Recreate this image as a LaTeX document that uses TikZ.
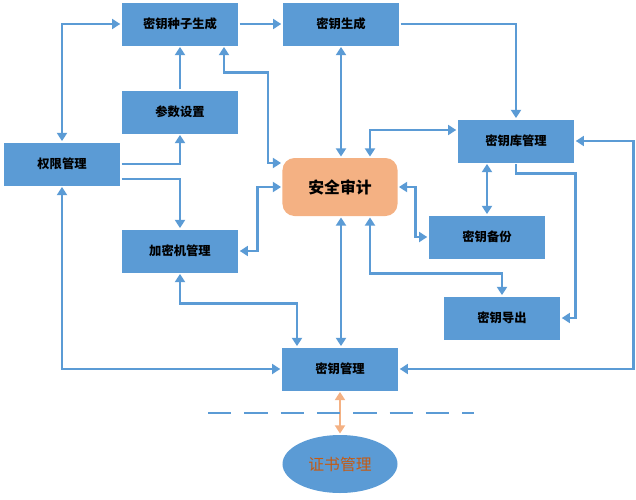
\documentclass[tikz,border=0pt]{standalone}
\usepackage{fontspec}
\newfontfamily\cjk{Noto Sans CJK SC}
\usetikzlibrary{arrows.meta,calc,shapes.geometric}
\definecolor{boxblue}{HTML}{5B9BD5}
\definecolor{auditorange}{HTML}{F4B183}
\definecolor{certtext}{HTML}{C55A11}
\begin{document}
\begin{tikzpicture}[x=0.03cm,y=-0.03cm,
		box/.style={rectangle,fill=boxblue,minimum width=3.5cm,minimum height=1.29cm,inner sep=0pt,font=\cjk\bfseries\fontsize{10.5}{12}\selectfont},
		link/.style={draw=boxblue,line width=2.4pt,{Triangle[length=7pt,width=8.5pt]}-{Triangle[length=7pt,width=8.5pt]},shorten <=1pt,shorten >=1pt},
		oneway/.style={link,-{Triangle[length=7pt,width=8.5pt]}}]
		\useasboundingbox (0,0) rectangle (636,500);
		\node[box] (seed) at (180,24) {密钥种子生成};
		\node[box] (gen) at (341,24) {密钥生成};
		\node[box] (param) at (180,112) {参数设置};
		\node[box] (perm) at (62,164) {权限管理};
		\node[rectangle,rounded corners=0.36cm,fill=auditorange,minimum width=3.45cm,minimum height=1.74cm,font=\cjk\bfseries\fontsize{13.5}{15}\selectfont] (audit) at (340,187) {安全审计};
		\node[box] (store) at (516,141) {密钥库管理};
		\node[box] (backup) at (487,237) {密钥备份};
		\node[box] (hsm) at (180,251) {加密机管理};
		\node[box] (export) at (502,318) {密钥导出};
		\node[box] (keymgmt) at (340,369) {密钥管理};
		\node[ellipse,fill=boxblue,minimum width=3.45cm,minimum height=1.74cm,inner sep=0pt,text=certtext,font=\cjk\fontsize{13.5}{15}\selectfont] (cert) at (340,464) {证书管理};

		\draw[link] (perm.north) |- (seed.west);
		\draw[oneway] (seed) -- (gen);
		\draw[oneway] (param) -- (seed);
		\draw[oneway] (perm.east) -| (param.south);
		\draw[oneway] ($(perm.east)+(0,15)$) -| (hsm.north);
		\draw[link] ($(seed.south)+(44,0)$) |- ++(44,27) |- ($(audit.west)+(0,-24)$);
		\draw[link] (hsm.east) -- ++(19,0) |- (audit.west);
		\draw[link] (gen.south) -- (gen.south |- audit.north);
		\draw[oneway] (gen.east) -| (store.north);
		\draw[link] ($(audit.north)+(30,0)$) |- ($(store.west)+(0,-11)$);
		\draw[link] (backup.north |- store.south) -- (backup.north);
		\draw[link] (audit.east) -- ++(18,0) |- (backup.west);
		\draw[oneway] (store.south) -- ++(0,11) -| ($(export.east)+(15,0)$) -- (export.east);
		\draw[link] (keymgmt.east) -| ($(store.east)+(59,0)$) -- (store.east);
		\draw[link] (gen.south |- audit.south) -- (gen.south |- keymgmt.north);
		\draw[link] ($(audit.south)+(30,0)$) -- ++(0,57) -| (export.north);
		\draw[link] (hsm.south) -- ++(0,31) -| ($(keymgmt.north)+(-43,0)$);
		\draw[link] (perm.south) |- (keymgmt.west);
		\draw[link,draw=auditorange] (keymgmt.south) -- (cert.north);

		\coordinate (dashL) at (208,413);
		\coordinate (dashR) at (474,413);
		\draw[boxblue,line width=2.5pt,dash pattern=on 20pt off 11pt] (dashL) -- (dashR);
	\end{tikzpicture}
\end{document}
